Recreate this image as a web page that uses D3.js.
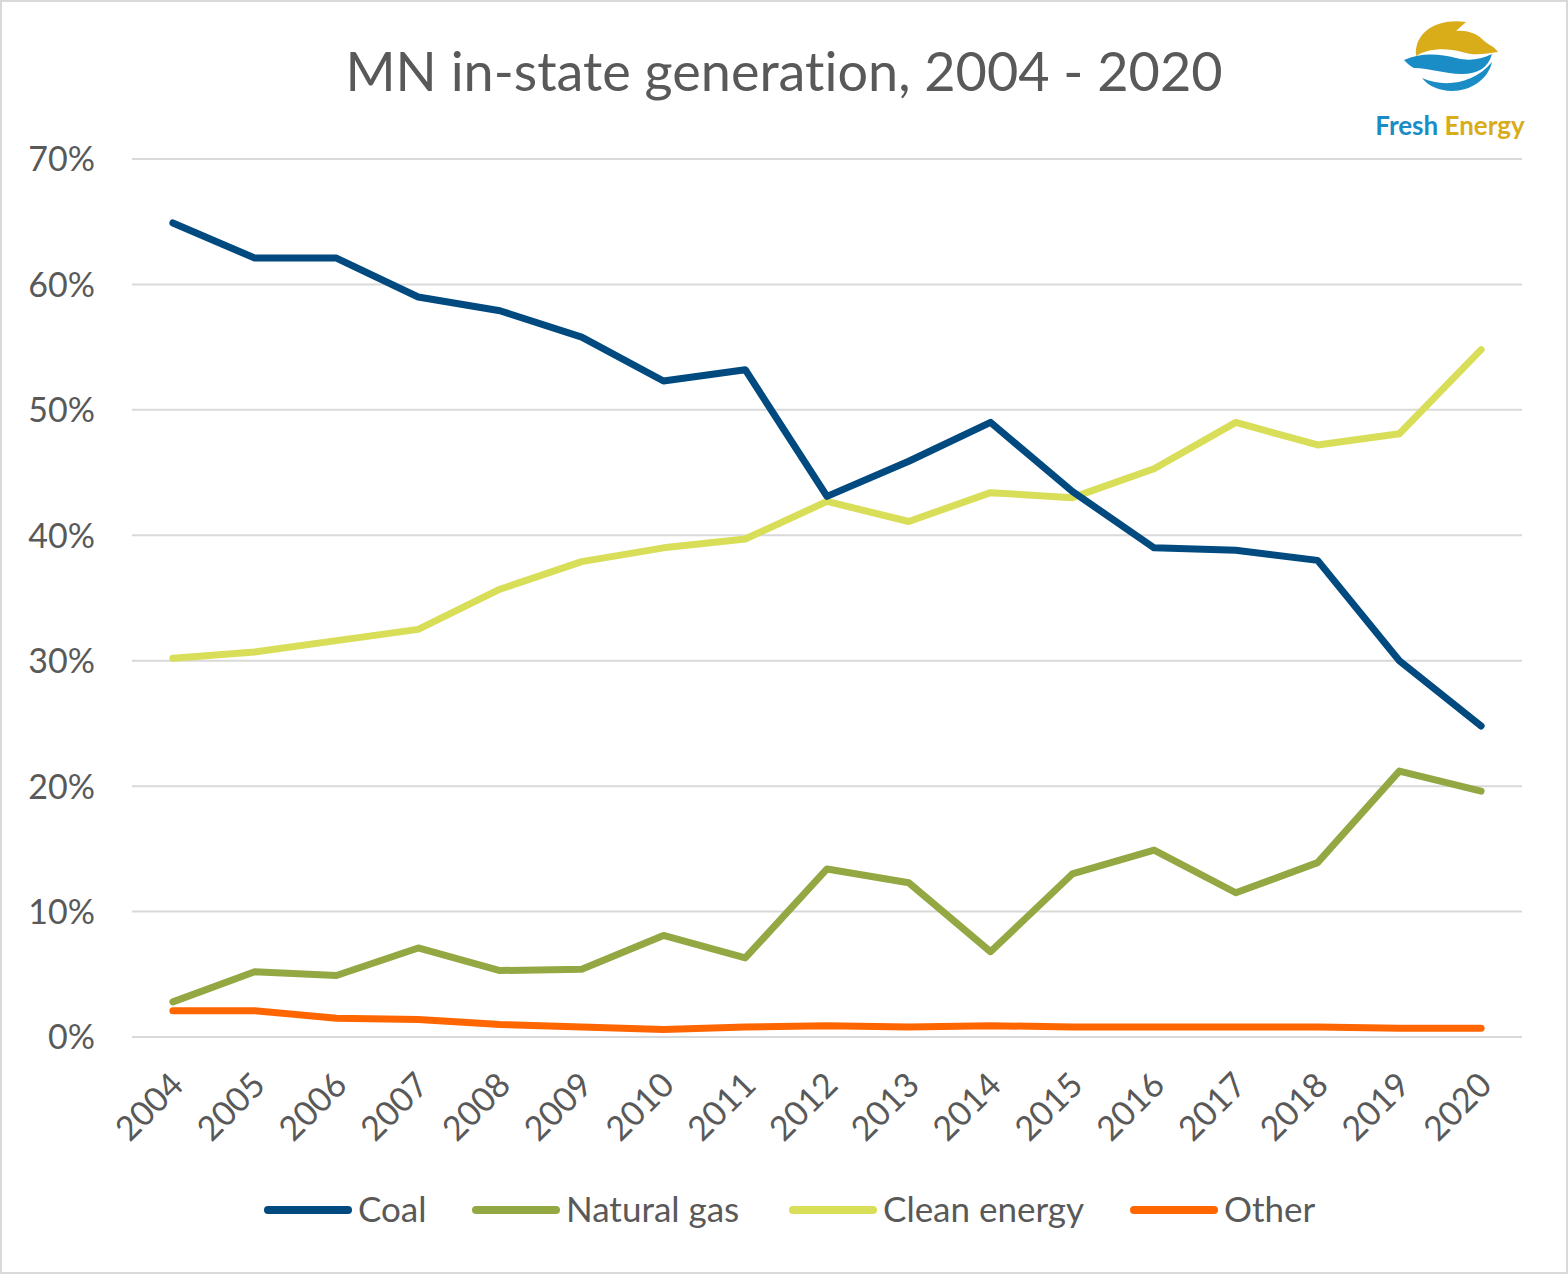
<!DOCTYPE html>
<html>
<head>
<meta charset="utf-8">
<script src="https://cdn.jsdelivr.net/npm/d3@7"></script>
<style>
  body { margin: 0; background: #fff; }
  svg text { font-family: Lato, "Open Sans", sans-serif; fill: #595959; font-variant-ligatures: none; }
</style>
</head>
<body>
<div id="main"></div>
<script>
var years = ["2004", "2005", "2006", "2007", "2008", "2009", "2010", "2011", "2012",
    "2013", "2014", "2015", "2016", "2017", "2018", "2019", "2020"];
var coal = [64.9, 62.1, 62.1, 59.0, 57.9, 55.8, 52.3, 53.2, 43.1, 45.9, 49.0, 43.5, 39.0, 38.8, 38.0, 30.0, 24.8];
var naturalGas = [2.8, 5.2, 4.9, 7.1, 5.3, 5.4, 8.1, 6.3, 13.4, 12.3, 6.8, 13.0, 14.9, 11.5, 13.9, 21.2, 19.6];
var cleanEnergy = [30.2, 30.7, 31.6, 32.5, 35.7, 37.9, 39.0, 39.7, 42.7, 41.1, 43.4, 43.0, 45.3, 49.0, 47.2, 48.1, 54.8];
var other = [2.1, 2.1, 1.5, 1.4, 1.0, 0.8, 0.6, 0.8, 0.9, 0.8, 0.9, 0.8, 0.8, 0.8, 0.8, 0.7, 0.7];
var yTicks = [0, 10, 20, 30, 40, 50, 60, 70];

var seriesNames = ["Coal", "Natural gas", "Clean energy", "Other"];
var seriesColors = ["#004a80", "#93a843", "#d9de58", "#ff6600"];

var ctx = {
    w: 1568,
    h: 1274,
    margin: { top: 159, right: 46, bottom: 237, left: 132 },
};

var svg = d3.select("#main").append("svg")
    .attr("width", ctx.w)
    .attr("height", ctx.h);

// outer frame
svg.append("rect")
    .attr("x", 1).attr("y", 1)
    .attr("width", ctx.w - 2).attr("height", ctx.h - 2)
    .attr("fill", "#fff").attr("stroke", "#d9d9d9").attr("stroke-width", 2);

var plotW = ctx.w - ctx.margin.left - ctx.margin.right;
var plotH = ctx.h - ctx.margin.top - ctx.margin.bottom;

var g = svg.append("g")
    .attr("transform", "translate(" + ctx.margin.left + "," + ctx.margin.top + ")");

var x = d3.scalePoint().domain(years).range([0, plotW]).padding(0.5);
var y = d3.scaleLinear().domain([0, 70]).range([plotH, 0]);

// gridlines
g.selectAll("line.grid")
    .data(yTicks)
    .enter()
    .append("line")
    .attr("class", "grid")
    .attr("x1", 0).attr("x2", plotW)
    .attr("y1", function (d) { return y(d); })
    .attr("y2", function (d) { return y(d); })
    .attr("stroke", "#d9d9d9")
    .attr("stroke-width", 2);

// y labels
var yAxis = g.append("g")
    .call(d3.axisLeft(y).tickValues(yTicks).tickSize(0).tickPadding(37)
        .tickFormat(function (d) { return d + "%"; }));
yAxis.select(".domain").remove();
yAxis.selectAll("text")
    .style("font-size", "34px")
    .attr("dy", "0.35em");

// x labels
var xAxis = g.append("g")
    .attr("transform", "translate(0," + plotH + ")")
    .call(d3.axisBottom(x).tickSize(0));
xAxis.select(".domain").remove();
xAxis.selectAll("text")
    .style("font-size", "34px")
    .attr("text-anchor", "end")
    .attr("dy", "0")
    .attr("transform", "translate(10,48) rotate(-45)");

var line = d3.line()
    .x(function (d, i) { return x(years[i]); })
    .y(function (d) { return y(d); });

var allSeries = [coal, naturalGas, cleanEnergy, other];
// draw in order so coal sits on top like the original
var drawOrder = [3, 2, 1, 0];
drawOrder.forEach(function (k) {
    g.append("path")
        .datum(allSeries[k])
        .attr("d", line)
        .attr("fill", "none")
        .attr("stroke", seriesColors[k])
        .attr("stroke-width", 7)
        .attr("stroke-linejoin", "round")
        .attr("stroke-linecap", "round");
});

// title
svg.append("text")
    .attr("x", 784).attr("y", 91)
    .attr("text-anchor", "middle")
    .style("font-size", "54px")
    .text("MN in-state generation, 2004 - 2020");

// legend
var legendX = [268, 476, 793, 1134];
var legend = svg.append("g");
seriesNames.forEach(function (name, i) {
    legend.append("line")
        .attr("x1", legendX[i]).attr("x2", legendX[i] + 80)
        .attr("y1", 1210).attr("y2", 1210)
        .attr("stroke", seriesColors[i])
        .attr("stroke-width", 8)
        .attr("stroke-linecap", "round");
    legend.append("text")
        .attr("x", legendX[i] + 90).attr("y", 1222)
        .style("font-size", "35px")
        .text(name);
});

// logo
var logo = svg.append("g").attr("transform", "translate(1452,58)");
logo.append("path")
    .attr("d", "M-36,-2 C-38,-28 -12,-40 14,-36 L4,-27 C14,-28 24,-25 30,-19 C36,-13 42,-12 46,-6 C32,-4 22,-2 10,-6 C-6,-10 -22,-10 -36,-2 Z")
    .attr("fill", "#d9ac19");
logo.append("path")
    .attr("d", "M-48,2 C-30,-6 -12,-4 4,0 C16,3 28,2 40,-4 C36,10 26,16 10,16 C-8,16 -22,10 -38,10 C-42,8 -44,6 -48,2 Z")
    .attr("fill", "#1a8cc6");
logo.append("path")
    .attr("d", "M-30,20 C-8,30 22,26 40,4 C36,22 18,33 0,33 C-12,33 -24,28 -30,20 Z")
    .attr("fill", "#1a8cc6");
var logoText = svg.append("text")
    .attr("x", 1450).attr("y", 135)
    .attr("text-anchor", "middle")
    .style("font-size", "26px")
    .style("font-weight", "bold");
logoText.append("tspan").style("fill", "#1a8cc6").text("Fresh ");
logoText.append("tspan").style("fill", "#d9ac19").text("Energy");
</script>
</body>
</html>
